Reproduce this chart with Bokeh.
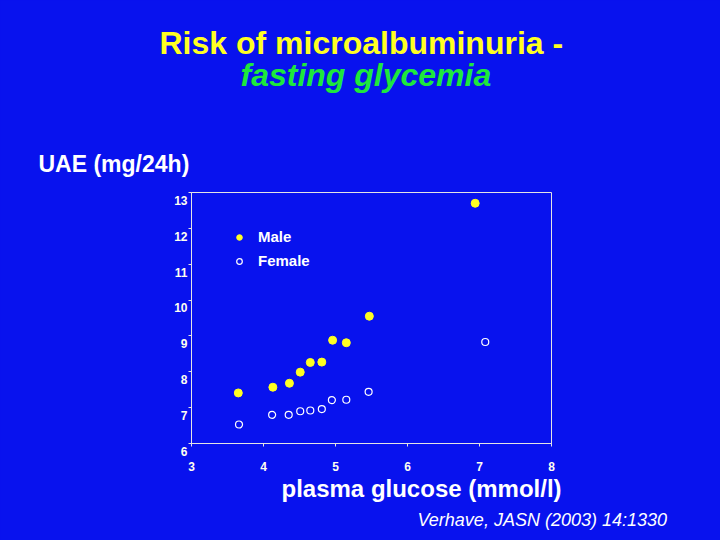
from bokeh.plotting import figure
from bokeh.models import Legend, LegendItem, FixedTicker, Range1d, Title
from bokeh.embed import file_html
from bokeh.resources import INLINE

# ---- data ----
glucose_male = [3.65, 4.13, 4.36, 4.51, 4.65, 4.81, 4.96, 5.15, 5.47, 6.94]
uae_male = [7.41, 7.57, 7.68, 7.99, 8.26, 8.27, 8.88, 8.81, 9.55, 12.70]
glucose_female = [3.66, 4.12, 4.35, 4.51, 4.65, 4.81, 4.95, 5.15, 5.46, 7.08]
uae_female = [6.53, 6.80, 6.80, 6.90, 6.92, 6.96, 7.21, 7.22, 7.44, 8.83]
x_ticks = [3, 4, 5, 6, 7, 8]
y_ticks = [6, 7, 8, 9, 10, 11, 12, 13]
title_line1 = "Risk of microalbuminuria -"
title_line2 = "fasting glycemia"
y_title = "UAE (mg/24h)"
x_title = "plasma glucose (mmol/l)"
citation = "Verhave, JASN (2003) 14:1330"

BG = "#0812ee"
YEL = "#ffff22"
GRN = "#1ee83c"
FONT = "Liberation Sans"

p = figure(width=720, height=540, output_backend="svg", toolbar_location=None,
           x_range=Range1d(3, 8), y_range=Range1d(6, 13),
           min_border_left=191, min_border_right=169,
           min_border_top=192, min_border_bottom=97)
p.background_fill_color = BG
p.border_fill_color = BG
p.outline_line_color = "#e4e4e4"
p.outline_line_width = 1
p.grid.visible = False

for ax in (p.xaxis[0], p.yaxis[0]):
    ax.axis_line_color = "#e4e4e4"
    ax.major_tick_line_color = "#e4e4e4"
    ax.minor_tick_line_color = None
    ax.major_tick_in = 0
    ax.major_tick_out = 3
    ax.major_label_text_color = "#fffff0"
    ax.major_label_text_font = FONT
    ax.major_label_text_font_style = "bold"
    ax.major_label_text_font_size = "12px"

p.xaxis.ticker = FixedTicker(ticks=x_ticks)
p.yaxis.ticker = FixedTicker(ticks=y_ticks)
p.xaxis.major_label_standoff = 15
p.yaxis.major_label_standoff = 1
p.yaxis.major_label_overrides = {t: "\n" + str(t) for t in y_ticks}

r_m = p.scatter(glucose_male, uae_male, size=8, marker="circle",
                fill_color=YEL, line_color=YEL)
r_f = p.scatter(glucose_female, uae_female, size=7, marker="circle",
                fill_color=None, line_color="white", line_width=1.2)

legend = Legend(items=[LegendItem(label="Male", renderers=[r_m]),
                       LegendItem(label="Female", renderers=[r_f])],
                location=(41, 174), background_fill_alpha=0,
                border_line_color=None, padding=0, margin=0, spacing=7,
                glyph_width=14, glyph_height=16, label_height=16,
                label_standoff=12, label_text_color="white",
                label_text_font=FONT, label_text_font_style="bold",
                label_text_font_size="15px")
p.add_layout(legend, "center")

def title(text, side, size, color, style, offset, standoff):
    p.add_layout(Title(text=text, align="left", offset=offset, standoff=standoff,
                       vertical_align="bottom",
                       text_font=FONT, text_font_size=size, text_color=color,
                       text_font_style=style), side)

# above: nearest the frame first
title(y_title, "above", "23px", "white", "bold", -153, 31)
title(title_line2 + "\n ", "above", "32px", GRN, "bold italic", 49, 9)
title(title_line1, "above", "32px", YEL, "bold", -32, -21)
# below: after the x axis
title(x_title, "below", "24px", "white", "bold", 90, -2)
title(citation, "below", "18px", "white", "italic", 226, 14)

html = file_html(p, INLINE)
html = html.replace("</head>", "<style>body{background:%s;}</style></head>" % BG, 1)
open("out.html", "w").write(html)
